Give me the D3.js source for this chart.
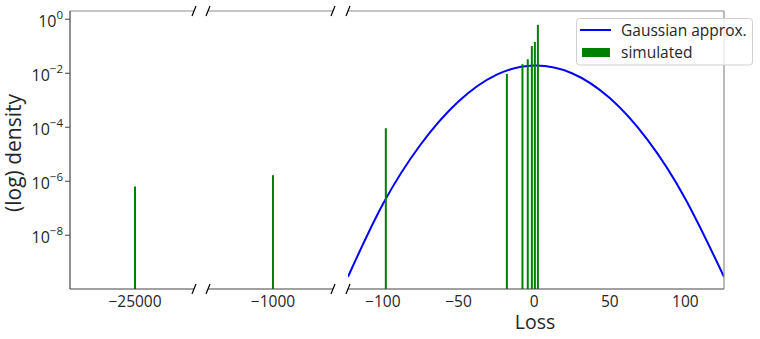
<!DOCTYPE html>
<html>
<head>
<meta charset="utf-8">
<script src="https://cdn.jsdelivr.net/npm/d3@7"></script>
<style>
body { margin: 0; background: #fff; }
text { font-family: "Open Sans", sans-serif; fill: #262626; }
</style>
</head>
<body>
<div id="chart"></div>
<script>
// simulated losses (bar positions) and their density
var simLoss = [-25000, -1000, -98, -18, -7.7, -4.2, -1.5, 0.5, 2.5];
var simDensity = [6.4e-7, 1.67e-6, 9.2e-5, 9.4e-3, 0.0216, 0.033, 0.102, 0.145, 0.62];

// gaussian approximation
var gaussLoss = [-123, -100, -75, -50, -25, 0, 25, 50, 75, 100, 125.5];
var gaussDensity = [2.9e-10, 1.4e-7, 2.3e-5, 9.0e-4, 8.7e-3, 0.0192, 0.0100, 1.2e-3, 3.4e-5, 2.2e-7, 2.9e-10];

var yTicks = [1, 1e-2, 1e-4, 1e-6, 1e-8];
var yTickExp = ["0", "\u22122", "\u22124", "\u22126", "\u22128"];

var panelDomains = [[-25065, -24941], [-1065, -940], [-123, 125.5]];
var panelTicks = [[-25000], [-1000], [-100, -50, 0, 50, 100]];

var width = 760, height = 339;
var plotTop = 11, plotBottom = 289;
var panelX = [[70, 194], [208, 333], [348, 724]];

var svg = d3.select('#chart')
    .append('svg')
    .attr('width', width)
    .attr('height', height);

var y = d3.scaleLog().domain([1e-10 * 1.02, 2.02]).range([plotBottom, plotTop]);

var xs = panelDomains.map(function(dom, i) {
    return d3.scaleLinear().domain(dom).range(panelX[i]);
});

function scaleFor(v) {
    for (var i = 0; i < xs.length; i++) {
        var d = xs[i].domain();
        if (v >= d[0] && v <= d[1]) return xs[i];
    }
    return null;
}

// clip for the gaussian curve
svg.append('clipPath').attr('id', 'clip3')
    .append('rect')
    .attr('x', panelX[2][0]).attr('y', plotTop)
    .attr('width', panelX[2][1] - panelX[2][0])
    .attr('height', plotBottom - plotTop);

// gaussian line
var pts = gaussLoss.map(function(d, i) { return [d, gaussDensity[i]]; });
var line = d3.line()
    .x(function(d) { return xs[2](d[0]); })
    .y(function(d) { return y(d[1]); })
    .curve(d3.curveNatural);
svg.append('path')
    .datum(pts)
    .attr('clip-path', 'url(#clip3)')
    .attr('d', line)
    .attr('fill', 'none')
    .attr('stroke', '#0000ff')
    .attr('stroke-width', 2);

// simulated bars
svg.selectAll('rect.bar')
    .data(simLoss)
    .enter().append('rect')
    .attr('class', 'bar')
    .attr('x', function(d) { return scaleFor(d)(d) - 1; })
    .attr('y', function(d, i) { return y(simDensity[i]); })
    .attr('width', 2)
    .attr('height', function(d, i) { return plotBottom - y(simDensity[i]); })
    .attr('fill', '#008000');

// spines
panelX.forEach(function(p, i) {
    svg.append('line')
        .attr('x1', p[0]).attr('x2', p[1])
        .attr('y1', plotTop).attr('y2', plotTop)
        .attr('stroke', '#8c8c8c').attr('stroke-width', 1.2);
    svg.append('line')
        .attr('x1', p[0]).attr('x2', p[1])
        .attr('y1', plotBottom).attr('y2', plotBottom)
        .attr('stroke', '#444').attr('stroke-width', 1.2);
});
svg.append('line')
    .attr('x1', panelX[0][0]).attr('x2', panelX[0][0])
    .attr('y1', plotTop).attr('y2', plotBottom)
    .attr('stroke', '#444').attr('stroke-width', 1.2);
svg.append('line')
    .attr('x1', panelX[2][1]).attr('x2', panelX[2][1])
    .attr('y1', plotTop).attr('y2', plotBottom)
    .attr('stroke', '#8c8c8c').attr('stroke-width', 1.2);

// break marks
var breaks = [panelX[0][1], panelX[1][0], panelX[1][1], panelX[2][0]];
[plotTop, plotBottom].forEach(function(yy) {
    breaks.forEach(function(bx) {
        svg.append('line')
            .attr('x1', bx - 2).attr('x2', bx + 2)
            .attr('y1', yy + 5).attr('y2', yy - 5)
            .attr('stroke', '#000').attr('stroke-width', 1.2);
    });
});

// y ticks
var yt = svg.append('g');
yTicks.forEach(function(t, i) {
    var yy = y(t);
    yt.append('line')
        .attr('x1', 65).attr('x2', 70)
        .attr('y1', yy).attr('y2', yy)
        .attr('stroke', '#444').attr('stroke-width', 1);
    var txt = yt.append('text')
        .attr('x', 63).attr('y', yy + 7.5)
        .attr('text-anchor', 'end')
        .style('font-size', '16px');
    txt.append('tspan').text('10');
    txt.append('tspan')
        .attr('dy', -7.5)
        .style('font-size', '11.5px')
        .text(yTickExp[i]);
});

// x tick labels
panelTicks.forEach(function(ticks, i) {
    ticks.forEach(function(t) {
        svg.append('text')
            .attr('x', xs[i](t))
            .attr('y', 307)
            .attr('text-anchor', 'middle')
            .style('font-size', '15.5px')
            .text(d3.format('')(t).replace('-', '\u2212'));
    });
});

// axis labels
svg.append('text')
    .attr('x', xs[2](0) + 1)
    .attr('y', 329)
    .attr('text-anchor', 'middle')
    .style('font-size', '19.5px')
    .text('Loss');
svg.append('text')
    .attr('transform', 'translate(21,153) rotate(-90)')
    .attr('text-anchor', 'middle')
    .style('font-size', '21px')
    .text('(log) density');

// legend
var lg = svg.append('g');
lg.append('rect')
    .attr('x', 576.5).attr('y', 18.5)
    .attr('width', 176).attr('height', 46.5)
    .attr('rx', 3)
    .attr('fill', '#fff').attr('fill-opacity', 0.8)
    .attr('stroke', '#d0d0d0');
lg.append('line')
    .attr('x1', 580).attr('x2', 611)
    .attr('y1', 30).attr('y2', 30)
    .attr('stroke', '#0000ff').attr('stroke-width', 2);
lg.append('rect')
    .attr('x', 582).attr('y', 48)
    .attr('width', 28).attr('height', 9)
    .attr('fill', '#008000');
lg.append('text')
    .attr('x', 621).attr('y', 36)
    .style('font-size', '15.5px')
    .text('Gaussian approx.');
lg.append('text')
    .attr('x', 621).attr('y', 58)
    .style('font-size', '15.5px')
    .text('simulated');
</script>
</body>
</html>
